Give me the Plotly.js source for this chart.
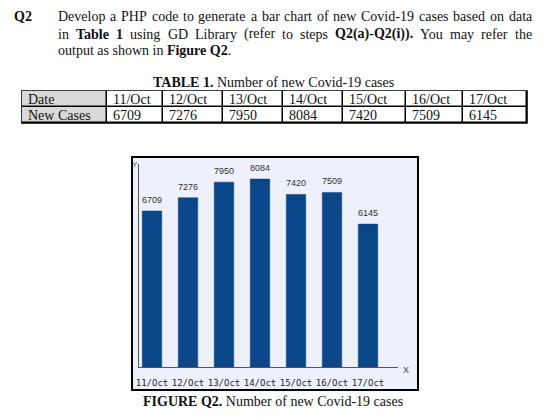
<!DOCTYPE html>
<html><head><meta charset="utf-8">
<script src="https://cdn.plot.ly/plotly-3.0.1.min.js"></script>
<style>html,body{margin:0;padding:0;background:#fff}</style>
</head><body><div id="chart" style="width:550px;height:417px"></div>
<script>
// ---- data ----
const dates = ['11/Oct','12/Oct','13/Oct','14/Oct','15/Oct','16/Oct','17/Oct'];
const cases = [6709, 7276, 7950, 8084, 7420, 7509, 6145];
const rowLabels = ['Date', 'New Cases'];
const tableTitle = ['TABLE 1.', ' Number of new Covid-19 cases'];
const figureCaption = ['FIGURE Q2.', ' Number of new Covid-19 cases'];
const line1 = [['Develop',0],['a',0],['PHP',0],['code',0],['to',0],['generate',0],['a',0],['bar',0],['chart',0],['of',0],['new',0],['Covid-19',0],['cases',0],['based',0],['on',0],['data',0]];
const line2 = [['in',0],['Table',1],['1',1],['using',0],['GD',0],['Library',0],['(refer',0],['to',0],['steps',0],['Q2(a)-Q2(i)).',1],['You',0],['may',0],['refer',0],['the',0]];
const line3 = 'output as shown in <b>Figure Q2</b>.';
// table column edges (pixel layout of the table)
const colEdges = [22, 107, 163, 223, 283, 343, 406, 463, 527];

// ---- helpers ----
const W = 550, H = 417;
const px = x => x / W;
const py = y => 1 - y / H;
const serif = 'Liberation Serif, Times New Roman, serif';
const ctx = document.createElement('canvas').getContext('2d');
function measure(t, b) { ctx.font = (b ? 'bold ' : '') + '14px "Liberation Serif"'; return ctx.measureText(t).width; }
function justify(words, x0, x1, yc) {
  const widths = words.map(w => measure(w[0], w[1]));
  const total = widths.reduce((a, b) => a + b, 0);
  const gap = (x1 - x0 - total) / (words.length - 1);
  let x = x0;
  return words.map((w, i) => {
    const a = {xref:'paper', yref:'paper', x: px(x - 1), y: py(yc), xanchor:'left', yanchor:'middle',
      text: w[1] ? '<b>' + w[0] + '</b>' : w[0], showarrow:false,
      font:{family:serif, size:14, color:'#111'}};
    x += widths[i] + gap;
    return a;
  });
}

const annotations = [];
annotations.push({xref:'paper', yref:'paper', x:px(12), y:py(17), xanchor:'left', yanchor:'middle',
  text:'<b>Q2</b>', showarrow:false, font:{family:serif, size:14, color:'#111'}});
annotations.push(...justify(line1, 57, 531, 17));
annotations.push(...justify(line2, 57, 531, 34));
annotations.push({xref:'paper', yref:'paper', x:px(56), y:py(50), xanchor:'left', yanchor:'middle',
  text:line3, showarrow:false, font:{family:serif, size:14, color:'#111'}});
annotations.push({xref:'paper', yref:'paper', x:px(273), y:py(82), xanchor:'center', yanchor:'middle',
  text:'<b>' + tableTitle[0] + '</b>' + tableTitle[1], showarrow:false, font:{family:serif, size:14, color:'#111'}});
annotations.push({xref:'paper', yref:'paper', x:px(273), y:py(401), xanchor:'center', yanchor:'middle',
  text:'<b>' + figureCaption[0] + '</b>' + figureCaption[1], showarrow:false, font:{family:serif, size:14, color:'#111'}});
// axis letters
annotations.push({xref:'paper', yref:'paper', x:px(135), y:py(164), xanchor:'center', yanchor:'middle',
  text:'Y', showarrow:false, font:{family:'Liberation Sans, sans-serif', size:8, color:'#444'}});
annotations.push({xref:'paper', yref:'paper', x:px(406), y:py(370), xanchor:'center', yanchor:'middle',
  text:'X', showarrow:false, font:{family:'Liberation Sans, sans-serif', size:9, color:'#444'}});
// value labels above bars
dates.forEach((d, i) => annotations.push({xref:'x', yref:'y', x:d, y:cases[i], xanchor:'center', yanchor:'bottom',
  yshift:4, text:String(cases[i]), showarrow:false, font:{family:'Liberation Sans, sans-serif', size:9, color:'#333'}}));
// table cell texts
const tableRows = [[rowLabels[0]].concat(dates), [rowLabels[1]].concat(cases.map(String))];
tableRows.forEach((row, r) => row.forEach((t, c) => annotations.push({xref:'x2', yref:'y2',
  x:colEdges[c] + 4, y:r + 0.5, xanchor:'left', yanchor:'middle', yshift:-1, text:t, showarrow:false,
  font:{family:serif, size:14, color:'#111'}})));

const zFill = tableRows.map(row => row.map((t, c) => c === 0 ? 1 : 0));

const traces = [
  {
    type:'bar', x:dates, y:cases, xaxis:'x', yaxis:'y',
    marker:{color:'#0a468a', line:{color:'#083a74', width:0.5}}, width:0.54, hoverinfo:'x+y'
  },
  {
    type:'heatmap', xaxis:'x2', yaxis:'y2', x:colEdges, y:[0, 1, 2], z:zFill,
    zmin:0, zmax:1, colorscale:[[0,'#ffffff'],[1,'#d9d9d9']], showscale:false,
    xgap:1.5, ygap:1.5, hoverinfo:'skip'
  }
];

const hiddenAxis = {showline:false, showgrid:false, zeroline:false, showticklabels:false, ticks:'', fixedrange:true};

const layout = {
  width:W, height:H, margin:{l:0, r:0, t:0, b:0},
  paper_bgcolor:'#ffffff', plot_bgcolor:'rgba(0,0,0,0)',
  showlegend:false,
  xaxis:{domain:[px(139), px(398)], anchor:'y', type:'category', range:[-0.361, 6.833],
    showline:true, linecolor:'#555', linewidth:1, ticks:'', showgrid:false, zeroline:false,
    tickfont:{family:'DejaVu Sans Mono, monospace', size:9, color:'#1c2340'}, ticklabelstandoff:7, fixedrange:true},
  yaxis:{domain:[py(367), py(164)], anchor:'x', range:[0, 8730], showline:true, linecolor:'#555', linewidth:1,
    showticklabels:false, ticks:'', showgrid:false, zeroline:false, fixedrange:true},
  xaxis2:Object.assign({domain:[px(colEdges[0]), px(colEdges[colEdges.length-1])], anchor:'y2',
    range:[colEdges[0], colEdges[colEdges.length-1]]}, hiddenAxis),
  yaxis2:Object.assign({domain:[py(123), py(91)], anchor:'x2', range:[2, 0]}, hiddenAxis),
  shapes:[
    {type:'rect', xref:'paper', yref:'paper', x0:px(132), x1:px(418), y0:py(390), y1:py(157),
      fillcolor:'#eef1fb', line:{color:'#000', width:2}, layer:'below'},
    {type:'rect', xref:'paper', yref:'paper', x0:px(21.2), x1:px(527.8), y0:py(123.8), y1:py(90.2),
      fillcolor:'#000', line:{width:0}, layer:'below'}
  ],
  annotations:annotations
};

Plotly.newPlot('chart', traces, layout, {displayModeBar:false, staticPlot:true});
</script></body></html>
